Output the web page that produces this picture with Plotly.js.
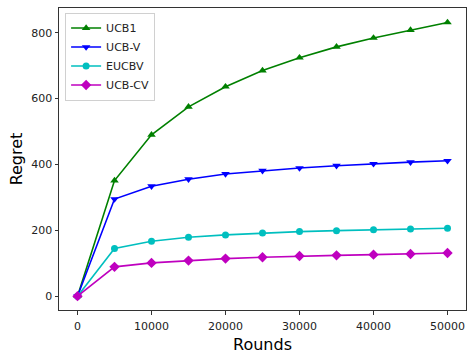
<!DOCTYPE html>
<html><head><meta charset="utf-8">
<script src="https://cdn.plot.ly/plotly-3.0.1.min.js"></script>
<style>html,body{margin:0;padding:0;background:#fff}#c{width:474px;height:359px}</style>
</head><body><div id="c"></div>
<script>
const rounds = [0,5000,10000,15000,20000,25000,30000,35000,40000,45000,50000];
const ucb1 = [0,351,490,575,636,685,724,757,784,808,831];
const ucbV = [0,295,334,355,371,381,389,396,402,407,411];
const eucbv = [0,145,167,179,186,192,196,199,202,204,206];
const ucbCV = [0,89,101,108,114,118,122,124,126,128,131];
const names = ['UCB1','UCB-V','EUCBV','UCB-CV'];
const colors = ['#008000','#0000ff','#00bfbf','#bf00bf'];
const symbols = ['triangle-up','triangle-down','circle','diamond'];
const series = [ucb1, ucbV, eucbv, ucbCV];
const traces = series.map((s,i)=>({
  x: rounds, y: s, name: names[i], type:'scatter', mode:'lines+markers',
  line:{color:colors[i], width:1.6},
  marker:{color:colors[i], symbol:symbols[i], size: i===2?7:(i===3?8:7.5)}
}));
const font = {family:'DejaVu Sans, sans-serif', color:'#222'};
const layout = {
  width:474, height:359,
  margin:{l:59, r:8, t:8, b:49},
  paper_bgcolor:'#fff', plot_bgcolor:'#fff',
  font: Object.assign({size:11}, font),
  showlegend:true,
  legend:{x:0.015, y:0.985, xanchor:'left', yanchor:'top', bgcolor:'rgba(255,255,255,0.8)',
          bordercolor:'#d0d0d0', borderwidth:1, font:{size:11, family:font.family, color:'#222'}, tracegroupgap:0},
  xaxis:{range:[-2500,52500], tickvals:[0,10000,20000,30000,40000,50000],
         ticktext:['0','10000','20000','30000','40000','50000'],
         showgrid:false, zeroline:false, ticks:'outside', ticklen:3.5, tickcolor:'#333',
         showline:true, linecolor:'#333', linewidth:1, mirror:true, ticklabelstandoff:2,
         tickfont:{size:11}, title:{text:'Rounds', font:{size:16, color:'#000'}, standoff:7}},
  yaxis:{range:[-42,875], tickvals:[0,200,400,600,800],
         showgrid:false, zeroline:false, ticks:'outside', ticklen:3.5, tickcolor:'#333',
         showline:true, linecolor:'#333', linewidth:1, mirror:true,
         tickfont:{size:11}, title:{text:'Regret', font:{size:16, color:'#000'}, standoff:4}}
};
Plotly.newPlot('c', traces, layout, {displayModeBar:false, staticPlot:true});
</script></body></html>
